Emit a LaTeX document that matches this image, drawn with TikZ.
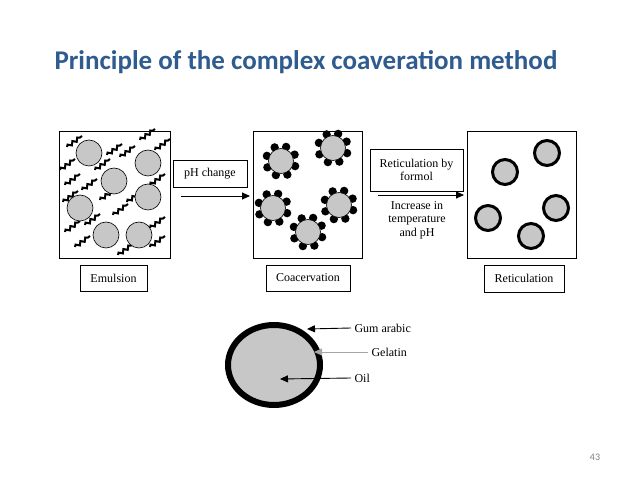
\documentclass[tikz,border=0pt]{standalone}
\usepackage{fontspec}
\setmainfont{Liberation Serif}
\newfontfamily\titlefont{Carlito}
\usetikzlibrary{decorations.pathmorphing,arrows.meta}
\definecolor{titleblue}{HTML}{2F5C8F}
\definecolor{drop}{gray}{0.78}
\begin{document}
\begin{tikzpicture}[x=1pt,y=-1pt,
 frame/.style={draw,line width=0.9pt},
 lbl/.style={draw,line width=0.9pt,font=\fontsize{12}{13}\selectfont,align=center,inner sep=0pt},
 txt/.style={font=\fontsize{12}{13.5}\selectfont,align=center},
 strand/.style={line width=2pt,decorate,decoration={snake,segment length=6pt,amplitude=1.6pt}},
 drp/.style={draw,fill=drop,line width=0.6pt},
 ring/.style={draw,fill=drop,line width=3pt},
 arr/.style={-{Triangle[length=8pt,width=7pt]},line width=0.9pt}]
\useasboundingbox (0,0) rectangle (638,478);
\node[font=\titlefont\bfseries\fontsize{27}{30}\selectfont,text=titleblue,anchor=west] (title) at (51,62) {Principle of the complex coaveration method};
% frames
\node[frame,minimum width=111,minimum height=127,anchor=north west] (emu) at (59,131) {};
\node[frame,minimum width=109,minimum height=127,anchor=north west] (coa) at (253,131) {};
\node[frame,minimum width=109,minimum height=127,anchor=north west] (ret) at (467,131) {};
\node[lbl,minimum width=67,minimum height=26] (lemu) at (113.5,278) {Emulsion};
\node[lbl,minimum width=84,minimum height=26] (lcoa) at (308,278) {Coacervation};
\node[lbl,minimum width=80,minimum height=27] (lret) at (524,278.5) {Reticulation};
\node[lbl,minimum width=74,minimum height=27] (ph) at (210,173.5) {pH change};
\node[lbl,minimum width=93,minimum height=42] (form) at (416.5,170) {Reticulation by\\formol};
\coordinate (a1) at (181,196); \coordinate (a2) at (250,196);
\draw[arr] (a1) -- (a2);
\coordinate (b1) at (378,195); \coordinate (b2) at (464,195);
\draw[arr] (b1) -- (b2);
\node[txt] (inc) at (417,220) {Increase in\\temperature\\and pH};
% emulsion strands
\foreach \a/\b in {67/147,60/170,107/155,120/157,82/190,65/185,63/202,113/215,127/202,150/185,75/247,65/232,118/255,150/247,150/228,95/170,140/140,85/225,100/200,155/150}{
 \draw[strand] (\a,\b) -- ++(15,-11);}
\foreach \x/\y in {89/153,148/163,114/181,80/208,148/197,106/235,139/235}{
 \node[drp,circle,minimum size=26,inner sep=0] at (\x,\y) {};}
% coacervation
\foreach \x/\y in {281/161,333/148,273/208,339/205,308/232}{
 \begin{scope}[shift={(\x,\y)}]
 \foreach \t in {0,45,...,315}{\fill (\t+20:15) circle (4.2);}
 \end{scope}
 \node[drp,circle,minimum size=25,inner sep=0] at (\x,\y) {};}
% reticulation
\foreach \x/\y in {505/172,547/153,488/218,556/208,531/236}{
 \node[ring,circle,minimum size=25,inner sep=0] at (\x,\y) {};}
% bottom ellipse
\draw[line width=6pt,fill=drop] (274,365) ellipse (46 and 40);
\node[txt,anchor=west] (gum) at (351,328) {Gum arabic};
\node[txt,anchor=west] (gel) at (368,352) {Gelatin};
\node[txt,anchor=west] (oil) at (351,378) {Oil};
\coordinate (g1) at (307,329); \coordinate (e1) at (314,352); \coordinate (o1) at (280,379);
\draw[arr] (gum.west) -- (g1);
\draw[arr,draw=gray!70,-{Triangle[length=8pt,width=7pt,fill=gray!70]}] (gel.west) -- (e1);
\draw[arr] (oil.west) -- (o1);
\node[font=\titlefont\fontsize{10}{11}\selectfont,text=gray] (pg) at (595,457) {43};
\end{tikzpicture}
\end{document}
